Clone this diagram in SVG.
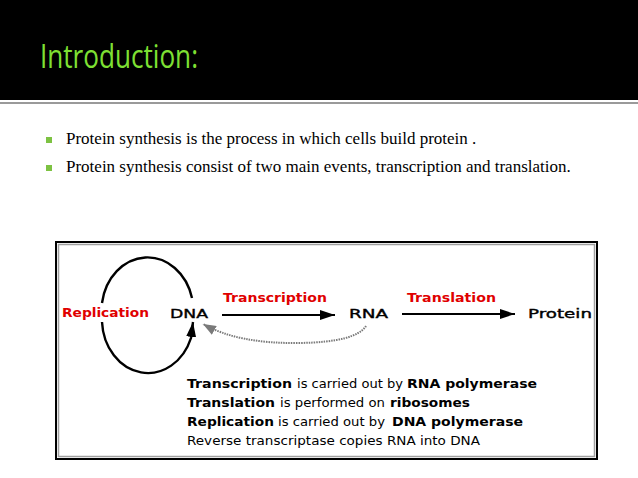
<svg xmlns="http://www.w3.org/2000/svg" width="638" height="478" viewBox="0 0 638 478">
<style>
.title{font-family:"Open Sans","DejaVu Sans",sans-serif;font-size:32px;fill:#7ee033}
.bul{font-family:"Liberation Serif","Times New Roman",serif;font-size:17px;fill:#000}
.lbl{font-family:"DejaVu Sans",Verdana,sans-serif;font-size:12.5px;font-weight:bold;fill:#e00000}
.node{font-family:"DejaVu Sans",Verdana,sans-serif;font-size:13px;fill:#000;stroke:#000;stroke-width:0.4}
.b{font-family:"DejaVu Sans",Verdana,sans-serif;font-size:11.5px;font-weight:bold;fill:#000}
.n{font-family:"DejaVu Sans",Verdana,sans-serif;font-size:11.5px;fill:#000}
.edge{fill:none;stroke:#000;stroke-width:2}
.loop{fill:none;stroke:#000;stroke-width:2.4}
.rev{fill:none;stroke:#7a7a7a;stroke-width:2;stroke-dasharray:1.5 1}
</style>
<defs>
<marker id="ah" markerUnits="userSpaceOnUse" markerWidth="15" markerHeight="10" refX="15" refY="5" orient="auto">
<path d="M0,0 L15,5 L0,10 z" fill="#000"/>
</marker>
<marker id="ahg" markerUnits="userSpaceOnUse" markerWidth="13" markerHeight="10" refX="13" refY="5" orient="auto">
<path d="M0,0 L13,5 L0,10 z" fill="#7a7a7a"/>
</marker>
</defs>
<rect x="0" y="0" width="638" height="478" fill="#fff"/>
<rect x="0" y="0" width="638" height="100" fill="#000"/>
<rect x="0" y="102" width="638" height="2" fill="#9a9a9a"/>
<text class="title" x="40" y="68" textLength="158" lengthAdjust="spacingAndGlyphs">Introduction:</text>
<g id="bullets">
<rect x="46" y="137" width="6" height="6" fill="#7dc242"/>
<text class="bul" x="66" y="144">Protein synthesis is the process in which cells build protein .</text>
<rect x="46" y="165" width="6" height="6" fill="#7dc242"/>
<text class="bul" x="66" y="172">Protein synthesis consist of two main events, transcription and translation.</text>
</g>
<g id="frame">
<rect x="56" y="242" width="541" height="217" fill="#fff" stroke="#000" stroke-width="2"/>
<rect x="58.5" y="244.5" width="536" height="212" fill="none" stroke="#a0a0a0" stroke-width="1.5"/>
</g>
<g id="connectors">
<path class="loop" d="M192,298 A46 54 0 0 0 102,303"/>
<path class="loop" d="M102,322 A46 54 0 0 0 191,338 L193,322" marker-end="url(#ah)"/>
<line class="edge" x1="222" y1="315" x2="335" y2="315" marker-end="url(#ah)"/>
<line class="edge" x1="402" y1="314" x2="515" y2="314" marker-end="url(#ah)"/>
<path class="rev" d="M366,326 Q356,342 300,343 Q238,344 203,324" marker-end="url(#ahg)"/>
</g>
<g id="replication"><text class="lbl" x="62" y="317" textLength="87" lengthAdjust="spacingAndGlyphs">Replication</text></g>
<g id="dna"><text class="node" x="170" y="318" textLength="38" lengthAdjust="spacingAndGlyphs">DNA</text></g>
<g id="transcription"><text class="lbl" x="223" y="302" textLength="104" lengthAdjust="spacingAndGlyphs">Transcription</text></g>
<g id="rna"><text class="node" x="349" y="318" textLength="39" lengthAdjust="spacingAndGlyphs">RNA</text></g>
<g id="translation"><text class="lbl" x="407" y="302" textLength="89" lengthAdjust="spacingAndGlyphs">Translation</text></g>
<g id="protein"><text class="node" x="528" y="318" textLength="64" lengthAdjust="spacingAndGlyphs">Protein</text></g>
<g id="notes">
<text class="b" x="187" y="388" textLength="105" lengthAdjust="spacingAndGlyphs">Transcription</text>
<text class="n" x="297" y="388" textLength="106" lengthAdjust="spacingAndGlyphs">is carried out by</text>
<text class="b" x="407" y="388" textLength="130" lengthAdjust="spacingAndGlyphs">RNA polymerase</text>
<text class="b" x="187" y="407" textLength="88" lengthAdjust="spacingAndGlyphs">Translation</text>
<text class="n" x="280" y="407" textLength="105" lengthAdjust="spacingAndGlyphs">is performed on</text>
<text class="b" x="390" y="407" textLength="80" lengthAdjust="spacingAndGlyphs">ribosomes</text>
<text class="b" x="187" y="426" textLength="87" lengthAdjust="spacingAndGlyphs">Replication</text>
<text class="n" x="278" y="426" textLength="107" lengthAdjust="spacingAndGlyphs">is carried out by</text>
<text class="b" x="392" y="426" textLength="131" lengthAdjust="spacingAndGlyphs">DNA polymerase</text>
<text class="n" x="187" y="445" textLength="293" lengthAdjust="spacingAndGlyphs">Reverse transcriptase copies RNA into DNA</text>
</g>
</svg>
